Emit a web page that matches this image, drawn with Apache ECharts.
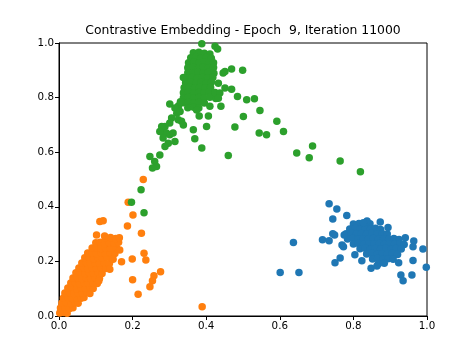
<!DOCTYPE html>
<html><head><meta charset="utf-8">
<script src="https://cdn.jsdelivr.net/npm/echarts@6/dist/echarts.min.js"></script>
<style>html,body{margin:0;padding:0;background:#fff}#c{width:474px;height:355px}</style>
</head><body><div id="c"></div>
<script>
const titleText = 'Contrastive Embedding - Epoch  9, Iteration 11000';
const tickLabels = ['0.0','0.2','0.4','0.6','0.8','1.0'];

const bluePoints = [
  [0.800,0.337],[0.815,0.339],[0.830,0.335],[0.845,0.338],
  [0.790,0.319],[0.805,0.321],[0.818,0.317],[0.832,0.320],[0.846,0.318],[0.860,0.321],[0.874,0.317],
  [0.780,0.301],[0.794,0.303],[0.808,0.299],[0.822,0.302],[0.836,0.300],[0.850,0.303],[0.864,0.299],[0.878,0.302],[0.892,0.300],
  [0.784,0.282],[0.798,0.284],[0.812,0.280],[0.826,0.283],[0.840,0.281],[0.854,0.284],[0.868,0.280],[0.882,0.283],[0.896,0.281],[0.910,0.284],[0.924,0.280],
  [0.800,0.264],[0.814,0.266],[0.828,0.262],[0.842,0.265],[0.856,0.263],[0.870,0.266],[0.884,0.262],[0.898,0.265],[0.912,0.263],[0.926,0.266],[0.938,0.262],
  [0.818,0.246],[0.832,0.248],[0.846,0.244],[0.860,0.247],[0.874,0.245],[0.888,0.248],[0.902,0.244],[0.916,0.247],[0.930,0.245],
  [0.836,0.227],[0.850,0.229],[0.864,0.225],[0.878,0.228],[0.892,0.226],[0.906,0.229],[0.920,0.225],
  [0.852,0.209],[0.866,0.211],[0.880,0.207],[0.894,0.210],[0.908,0.208],
  [0.868,0.191],[0.884,0.193],
  [0.734,0.411],[0.755,0.392],[0.744,0.355],[0.782,0.368],[0.637,0.269],[0.601,0.159],[0.652,0.159],
  [0.716,0.279],[0.734,0.276],[0.749,0.297],[0.750,0.195],[0.764,0.212],[0.873,0.344],[0.894,0.324],
  [0.837,0.348],[0.827,0.342],[0.941,0.287],[0.964,0.275],[0.962,0.254],[0.989,0.245],[0.962,0.203],
  [0.998,0.179],[0.929,0.150],[0.959,0.150],[0.935,0.129],[0.848,0.175],[0.864,0.183],[0.823,0.202],
  [0.923,0.195],[0.775,0.297],[0.769,0.260],[0.773,0.254],[0.804,0.224],[0.744,0.301]
];

const orangePoints = [
  [0.002,0.011],[0.012,0.013],[0.022,0.010],
  [0.004,0.029],[0.016,0.031],[0.028,0.027],[0.038,0.030],
  [0.008,0.048],[0.020,0.050],[0.032,0.046],[0.044,0.049],[0.052,0.047],
  [0.012,0.066],[0.024,0.068],[0.036,0.064],[0.048,0.067],[0.060,0.065],[0.068,0.068],
  [0.016,0.084],[0.028,0.086],[0.040,0.082],[0.052,0.085],[0.064,0.083],[0.076,0.086],[0.084,0.082],
  [0.024,0.103],[0.036,0.105],[0.048,0.101],[0.060,0.104],[0.072,0.102],[0.084,0.105],[0.093,0.101],
  [0.032,0.121],[0.044,0.123],[0.056,0.119],[0.068,0.122],[0.080,0.120],[0.092,0.123],[0.104,0.119],
  [0.038,0.139],[0.050,0.141],[0.062,0.137],[0.074,0.140],[0.086,0.138],[0.098,0.141],[0.110,0.137],
  [0.046,0.158],[0.058,0.160],[0.070,0.156],[0.082,0.159],[0.094,0.157],[0.106,0.160],[0.117,0.156],
  [0.054,0.176],[0.066,0.178],[0.078,0.174],[0.090,0.177],[0.102,0.175],[0.114,0.178],[0.127,0.174],
  [0.062,0.194],[0.074,0.196],[0.086,0.192],[0.098,0.195],[0.110,0.193],[0.122,0.196],[0.137,0.192],
  [0.070,0.213],[0.082,0.215],[0.094,0.211],[0.106,0.214],[0.118,0.212],[0.130,0.215],[0.145,0.211],
  [0.078,0.231],[0.090,0.233],[0.102,0.229],[0.114,0.232],[0.126,0.230],[0.138,0.233],[0.152,0.229],
  [0.090,0.249],[0.102,0.251],[0.114,0.247],[0.126,0.250],[0.140,0.248],[0.156,0.251],
  [0.100,0.268],[0.112,0.270],[0.124,0.266],[0.136,0.269],[0.150,0.267],[0.162,0.270],
  [0.126,0.286],[0.140,0.288],[0.154,0.284],[0.164,0.287],
  [0.111,0.346],[0.120,0.349],[0.102,0.297],[0.124,0.293],[0.186,0.330],[0.188,0.417],[0.201,0.370],
  [0.229,0.500],[0.224,0.303],[0.165,0.242],[0.147,0.208],[0.170,0.199],[0.199,0.209],[0.231,0.230],
  [0.236,0.205],[0.138,0.171],[0.108,0.128],[0.200,0.133],[0.276,0.162],[0.258,0.147],[0.254,0.129],
  [0.247,0.107],[0.215,0.080],[0.389,0.034]
];

const greenPoints = [
  [0.365,0.964],[0.380,0.966],[0.395,0.962],[0.410,0.960],
  [0.358,0.946],[0.372,0.948],[0.386,0.944],[0.400,0.947],[0.414,0.944],
  [0.352,0.928],[0.366,0.930],[0.380,0.926],[0.394,0.929],[0.408,0.926],[0.420,0.928],
  [0.350,0.909],[0.364,0.911],[0.378,0.907],[0.392,0.910],[0.406,0.908],[0.420,0.910],
  [0.350,0.891],[0.364,0.889],[0.378,0.893],[0.392,0.890],[0.406,0.892],[0.421,0.889],
  [0.348,0.873],[0.362,0.875],[0.376,0.871],[0.390,0.874],[0.404,0.872],[0.418,0.874],
  [0.344,0.854],[0.358,0.856],[0.372,0.852],[0.386,0.855],[0.400,0.853],[0.414,0.856],
  [0.340,0.836],[0.354,0.838],[0.368,0.834],[0.382,0.837],[0.396,0.835],[0.412,0.837],
  [0.338,0.818],[0.352,0.820],[0.366,0.816],[0.380,0.819],[0.394,0.817],[0.408,0.820],[0.424,0.816],
  [0.338,0.799],[0.352,0.801],[0.366,0.797],[0.380,0.800],[0.394,0.798],[0.410,0.801],[0.426,0.797],
  [0.338,0.781],[0.352,0.783],[0.366,0.779],[0.380,0.782],[0.395,0.780],
  [0.350,0.763],[0.366,0.765],[0.380,0.762],
  [0.388,0.997],[0.424,0.988],[0.431,0.978],
  [0.446,0.890],[0.451,0.896],[0.469,0.905],[0.499,0.900],[0.433,0.853],[0.451,0.835],[0.469,0.831],
  [0.485,0.804],[0.510,0.792],[0.531,0.796],[0.424,0.819],[0.437,0.817],[0.433,0.798],[0.546,0.753],
  [0.501,0.731],[0.478,0.692],[0.592,0.713],[0.544,0.670],[0.564,0.664],[0.610,0.676],[0.460,0.588],
  [0.646,0.597],[0.689,0.623],[0.680,0.580],[0.764,0.568],[0.819,0.528],[0.440,0.768],[0.410,0.768],
  [0.406,0.733],[0.381,0.733],[0.374,0.755],[0.401,0.694],[0.365,0.682],[0.369,0.649],[0.388,0.615],
  [0.338,0.874],[0.325,0.770],[0.330,0.785],
  [0.301,0.777],[0.315,0.762],[0.320,0.743],[0.306,0.725],[0.324,0.719],[0.333,0.713],[0.338,0.700],
  [0.329,0.749],[0.301,0.707],[0.288,0.694],[0.279,0.694],[0.283,0.670],[0.292,0.670],[0.301,0.664],
  [0.310,0.670],[0.315,0.639],[0.297,0.633],[0.288,0.621],[0.283,0.652],[0.274,0.676],
  [0.247,0.584],[0.274,0.590],[0.260,0.566],[0.265,0.548],[0.254,0.542],[0.223,0.462],[0.197,0.417],[0.231,0.378]
];

const chart = echarts.init(document.getElementById('c'), null, {renderer: 'canvas'});
const font = 'DejaVu Sans';
function axis() {
  return {
    type: 'value', min: 0, max: 1, interval: 0.2,
    axisLine: {show: true, onZero: false, lineStyle: {color: '#000', width: 1}},
    axisTick: {show: true, inside: false, length: 4, lineStyle: {color: '#000', width: 1}},
    axisLabel: {color: '#000', fontSize: 10.3, fontFamily: font, margin: 5,
      formatter: v => tickLabels[Math.round(v * 5)]},
    splitLine: {show: false}
  };
}
function series(data, color) {
  return {type: 'scatter', data: data, symbol: 'circle', symbolSize: 7.5,
    itemStyle: {color: color, opacity: 1}, clip: true, silent: true};
}
chart.setOption({
  animation: false,
  backgroundColor: '#fff',
  grid: {left: 59, right: 47, top: 43, bottom: 39, show: true, borderColor: '#000', borderWidth: 1, backgroundColor: 'transparent'},
  xAxis: axis(),
  yAxis: axis(),
  graphic: [{type: 'text', x: 243, y: 31, style: {text: titleText, font: '12.4px "DejaVu Sans"', fill: '#000', textAlign: 'center', textVerticalAlign: 'middle'}}],
  series: [series(bluePoints, '#1f77b4'), series(orangePoints, '#ff7f0e'), series(greenPoints, '#2ca02c')]
});
</script></body></html>
